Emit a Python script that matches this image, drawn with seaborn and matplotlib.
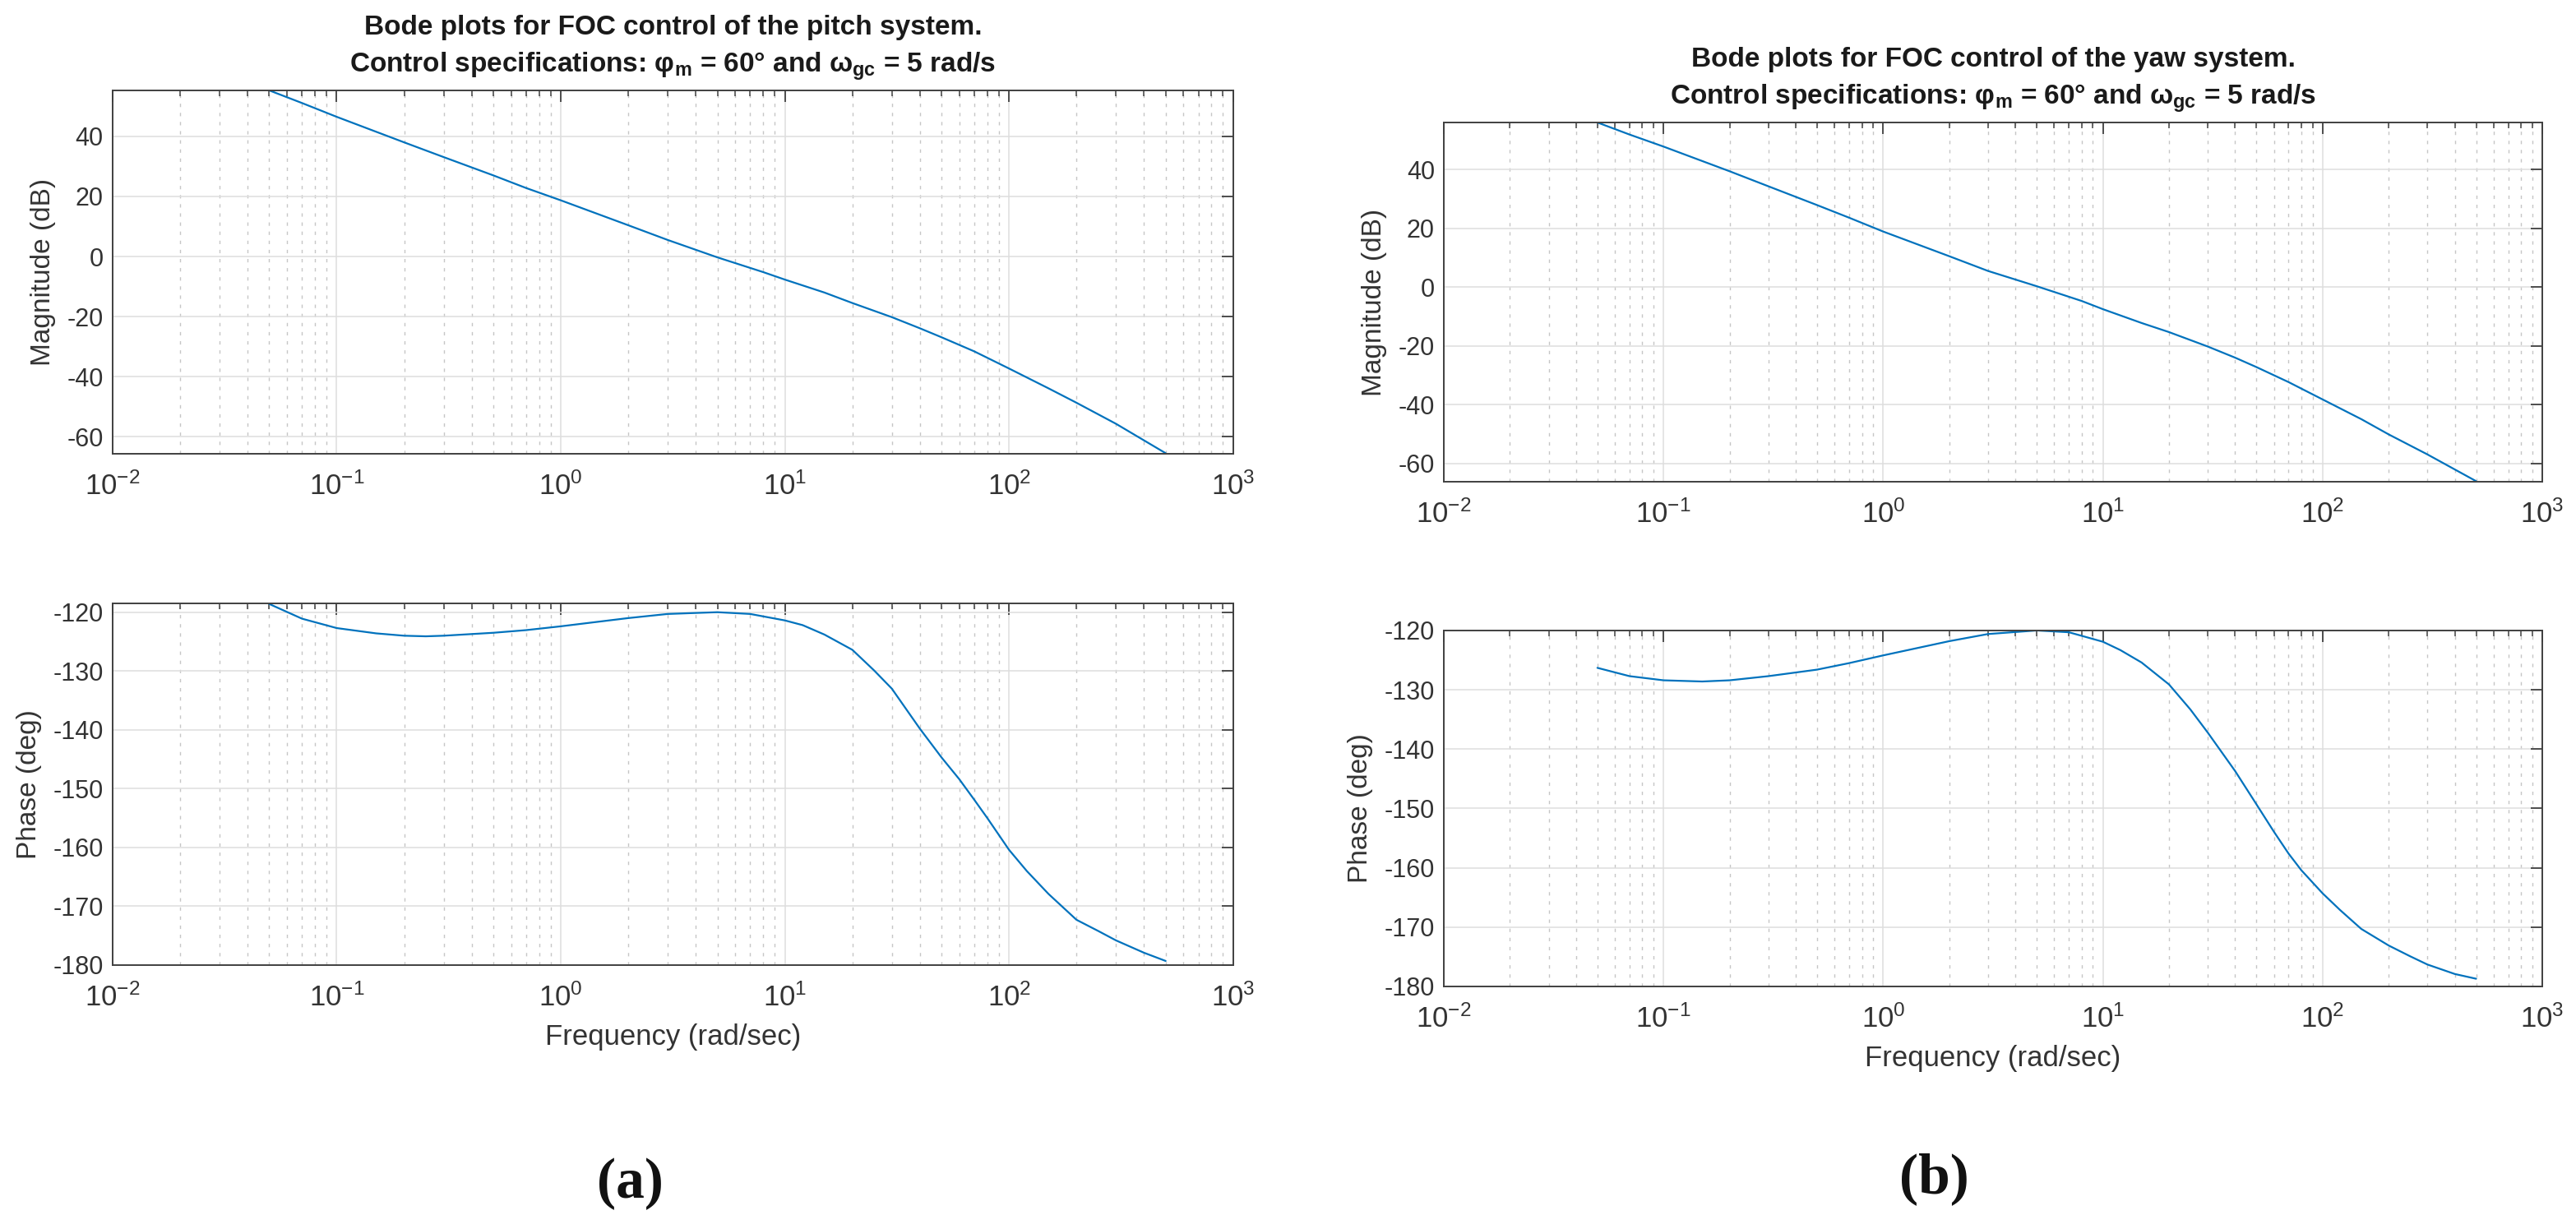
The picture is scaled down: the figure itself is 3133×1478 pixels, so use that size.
import matplotlib
matplotlib.use("Agg")
import matplotlib.pyplot as plt
import matplotlib.ticker as mticker
import pandas as pd
import seaborn as sns

# Datos (rad/s, dB, grados)
freq_mag = [0.05, 0.07, 0.1, 0.2, 0.3, 0.5, 0.7, 1, 2, 3, 5, 8, 10, 15, 20,
            30, 40, 50, 70, 100, 150, 200, 300, 500]
mag_pitch = [55.3, 51.1, 46.5, 38.0, 33.1, 27.0, 22.8, 18.7, 10.4, 5.5, -0.3,
             -5.2, -7.7, -12.0, -15.5, -20.2, -23.9, -26.9, -31.6, -37.3,
             -43.9, -48.7, -55.7, -65.5]
mag_yaw = [56.0, 51.9, 47.8, 39.4, 34.3, 27.9, 23.6, 18.9, 10.5, 5.5, 0.3,
           -4.7, -7.5, -12.2, -15.3, -20.2, -24.0, -27.2, -32.3, -38.2,
           -44.9, -50.1, -56.9, -66.0]

freq_ph_pitch = [0.05, 0.07, 0.1, 0.15, 0.2, 0.25, 0.3, 0.5, 0.7, 1, 2, 3, 5,
                 7, 10, 12, 15, 20, 25, 30, 40, 50, 60, 70, 80, 100, 120, 150,
                 200, 250, 300, 400, 500]
phase_pitch = [-118.6, -121.1, -122.7, -123.6, -124.0, -124.1, -124.0, -123.5,
               -123.05, -122.4, -121.0, -120.3, -120.0, -120.3, -121.4, -122.2,
               -123.8, -126.4, -129.9, -133.0, -139.8, -144.7, -148.4, -151.9,
               -155.0, -160.4, -164.0, -167.9, -172.3, -174.2, -175.8, -177.9,
               -179.3]

freq_ph_yaw = [0.05, 0.07, 0.1, 0.15, 0.2, 0.3, 0.5, 0.7, 1, 2, 3, 5, 7, 10,
               12, 15, 20, 25, 30, 40, 50, 60, 70, 80, 100, 120, 150, 200, 250,
               300, 400, 500]
phase_yaw = [-126.3, -127.7, -128.4, -128.6, -128.4, -127.7, -126.6, -125.5,
             -124.2, -121.8, -120.6, -120.0, -120.3, -121.9, -123.3, -125.4,
             -129.1, -133.3, -137.2, -143.7, -149.3, -153.9, -157.6, -160.4,
             -164.3, -167.1, -170.3, -173.1, -174.9, -176.3, -177.9, -178.7]

mag_ticks = [-60, -40, -20, 0, 20, 40]
phase_ticks = [-180, -170, -160, -150, -140, -130, -120]

titulos = ["Bode plots for FOC control of the pitch system.",
           "Bode plots for FOC control of the yaw system."]
subtitulo = r"Control specifications: $\mathdefault{φ_m}$ = 60° and $\mathdefault{ω_{gc}}$ = 5 rad/s"

# Estilo tipo MATLAB
sns.set_style("white")
plt.rcParams['font.family'] = ['Liberation Sans', 'DejaVu Sans']
plt.rcParams['axes.unicode_minus'] = False
plt.rcParams['mathtext.fontset'] = 'custom'
plt.rcParams['mathtext.rm'] = 'Liberation Sans'
plt.rcParams['mathtext.bf'] = 'Liberation Sans:bold'

AZUL = "#0072BD"
EJE = "#404040"
TXT = "#333333"


def formato(ax, yticks, ylim, ylabel, xlabel=None):
    ax.set_xscale("log")
    ax.set_xlim(1e-2, 1e3)
    ax.set_ylim(*ylim)
    ax.set_yticks(yticks)
    ax.xaxis.set_major_locator(mticker.LogLocator(base=10, numticks=10))
    ax.xaxis.set_minor_locator(mticker.LogLocator(base=10, subs=range(2, 10), numticks=20))
    ax.xaxis.set_minor_formatter(mticker.NullFormatter())
    ax.grid(True, which="major", axis="both", color="#dedede", lw=1.1)
    ax.grid(True, which="minor", axis="x", color="#c6c6c6", lw=1.0,
            linestyle=(0, (3, 5)))
    ax.set_axisbelow(True)
    ax.tick_params(which="both", direction="in", top=True, right=True,
                   colors=EJE, labelcolor=TXT, labelsize=22)
    ax.tick_params(which="major", length=10, width=1.3)
    ax.tick_params(which="minor", length=5, width=1.1)
    ax.tick_params(axis="x", which="major", pad=16, labelsize=25)
    ax.tick_params(axis="y", which="major", pad=8)
    for s in ax.spines.values():
        s.set_color(EJE)
        s.set_linewidth(1.4)
    ax.set_ylabel(ylabel, fontsize=24, color=TXT, labelpad=10)
    if xlabel:
        ax.set_xlabel(xlabel, fontsize=25, color=TXT, labelpad=10)
    else:
        ax.set_xlabel("")


fig = plt.figure(figsize=(31.33, 14.78), dpi=100)

ax_mp = fig.add_axes([0.0437, 0.6265, 0.4350, 0.2991])
ax_pp = fig.add_axes([0.0437, 0.2057, 0.4350, 0.2977])
ax_my = fig.add_axes([0.5605, 0.6035, 0.4264, 0.2957])
ax_py = fig.add_axes([0.5605, 0.1881, 0.4264, 0.2930])

paneles = [
    (ax_mp, freq_mag, mag_pitch, mag_ticks, (-65.7, 55.3), "Magnitude (dB)", None),
    (ax_pp, freq_ph_pitch, phase_pitch, phase_ticks, (-180, -118.5), "Phase (deg)", "Frequency (rad/sec)"),
    (ax_my, freq_mag, mag_yaw, mag_ticks, (-66.2, 56.0), "Magnitude (dB)", None),
    (ax_py, freq_ph_yaw, phase_yaw, phase_ticks, (-180, -120), "Phase (deg)", "Frequency (rad/sec)"),
]

for ax, f, v, yt, yl, ylab, xlab in paneles:
    df = pd.DataFrame({"w": f, "v": v})
    sns.lineplot(data=df, x="w", y="v", ax=ax, color=AZUL, lw=1.6,
                 sort=False, estimator=None)
    formato(ax, yt, yl, ylab, xlab)

for ax, t in [(ax_mp, titulos[0]), (ax_my, titulos[1])]:
    ax.set_title(t + "\n" + subtitulo, fontsize=24, fontweight="bold",
                 color="#1a1a1a", pad=16, linespacing=1.5)

fig.text(766 / 3133, 1 - 1440 / 1478, "(a)", family="Liberation Serif",
         fontweight="bold", fontsize=50, ha="center", va="center", color="#111111")
fig.text(2352 / 3133, 1 - 1434 / 1478, "(b)", family="Liberation Serif",
         fontweight="bold", fontsize=50, ha="center", va="center", color="#111111")

fig.savefig("out.png", dpi=100, facecolor="white")
